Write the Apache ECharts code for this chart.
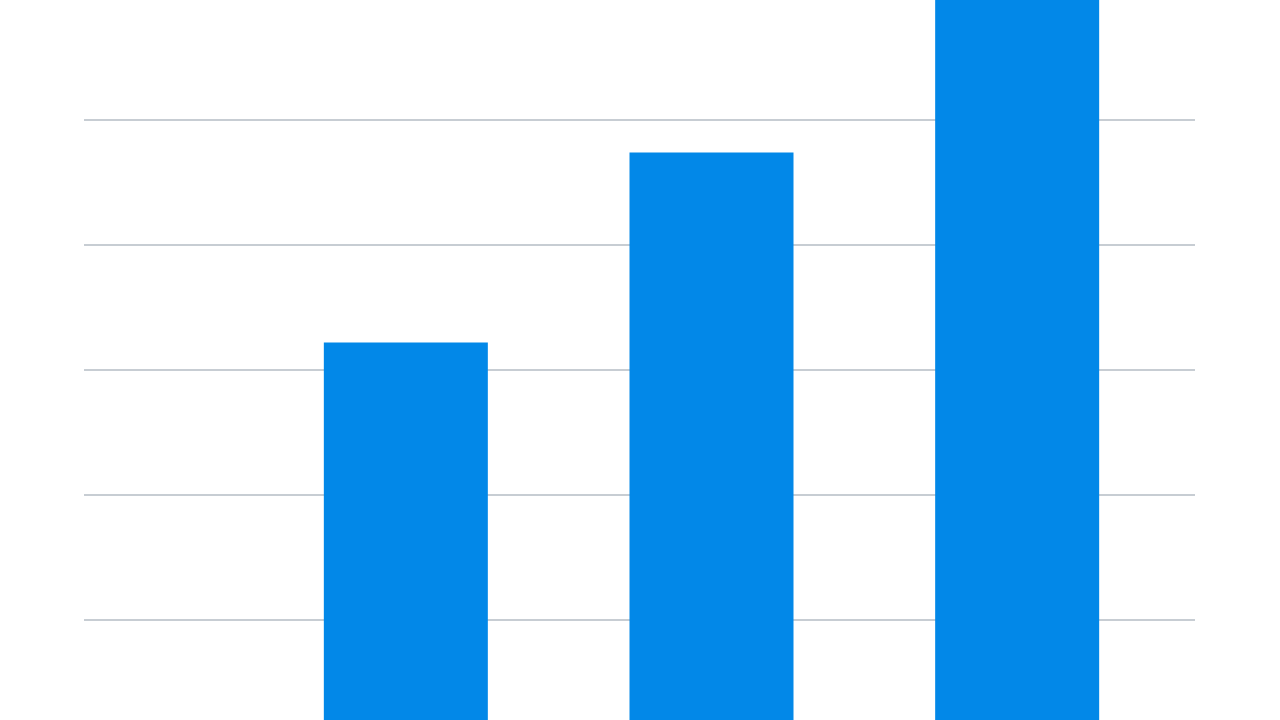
<!DOCTYPE html>
<html>
<head>
<meta charset="utf-8">
<script src="https://cdn.jsdelivr.net/npm/echarts@6/dist/echarts.min.js"></script>
<style>
html,body{margin:0;padding:0;background:#fff;}
#chart{width:1280px;height:720px;}
</style>
</head>
<body>
<div id="chart"></div>
<script>
var categories = ['A', 'B', 'C'];
var values = [32.2, 47.4, 60];
var yTicks = [0, 10, 20, 30, 40, 50, 60];

var chart = echarts.init(document.getElementById('chart'));
var option = {
	animation: false,
	backgroundColor: '#ffffff',
	grid: [
		// gridlines, frame runs past the canvas edges
		{left: 84, right: 85, top: -5, bottom: -25, outerBoundsMode: 'none', containLabel: false},
		// bars
		{left: 253, right: 110, top: -5, bottom: -25, outerBoundsMode: 'none', containLabel: false}
	],
	xAxis: [
		{gridIndex: 0, type: 'category', data: categories, show: false},
		{gridIndex: 1, type: 'category', data: categories, show: false}
	],
	yAxis: [
		{
			gridIndex: 0, type: 'value',
			min: yTicks[0], max: yTicks[yTicks.length - 1], interval: 10,
			axisLine: {show: false}, axisTick: {show: false}, axisLabel: {show: false},
			splitLine: {show: true, lineStyle: {color: '#b4bcc4', width: 1.5}}
		},
		{
			gridIndex: 1, type: 'value',
			min: yTicks[0], max: yTicks[yTicks.length - 1], interval: 10,
			show: false, splitLine: {show: false}
		}
	],
	series: [
		{
			type: 'bar',
			xAxisIndex: 1,
			yAxisIndex: 1,
			data: values,
			barWidth: 164,
			itemStyle: {color: '#0288e8'}
		}
	]
};
chart.setOption(option);
</script>
</body>
</html>
